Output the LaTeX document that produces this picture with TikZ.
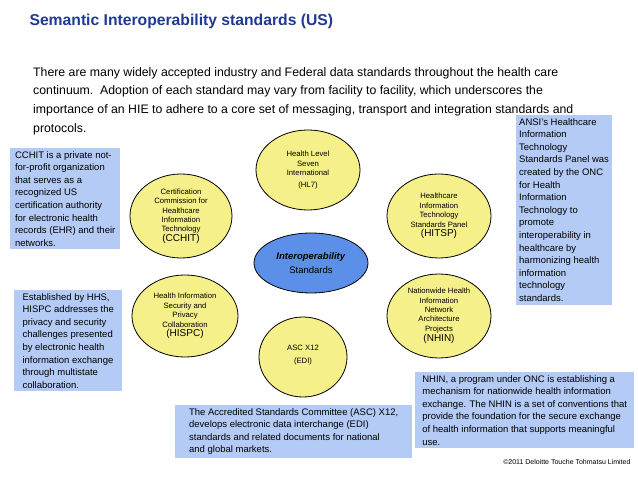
\documentclass[tikz,border=0pt]{standalone}
\usepackage{fontspec}
\setmainfont{Liberation Sans}
\definecolor{boxblue}{HTML}{B4CBF5}
\definecolor{ellfill}{HTML}{F5F08A}
\definecolor{midblue}{HTML}{5B8FE8}
\definecolor{titleblue}{HTML}{1F3A93}
\begin{document}
\begin{tikzpicture}[x=1pt,y=-1pt,
  ell/.style={draw=black,line width=0.8pt,fill=ellfill},
  etxt/.style={align=center,font=\fontsize{7.7}{9.4}\selectfont},
  note/.style={fill=boxblue,anchor=north west,align=left,inner sep=3pt,font=\fontsize{9.5}{12.6}\selectfont}]
\useasboundingbox (0,0) rectangle (638,478);
\fill[white] (0,0) rectangle (638,478);
\node[anchor=west,text=titleblue,font=\fontsize{15.7}{18}\bfseries] (title) at (26,21) {Semantic Interoperability standards (US)};
\node[anchor=north west,align=left,inner sep=0pt,font=\fontsize{12.3}{18.7}\selectfont] (para) at (33,67) {There are many widely accepted industry and Federal data standards throughout the health care\\ continuum.\ \ Adoption of each standard may vary from facility to facility, which underscores the\\ importance of an HIE to adhere to a core set of messaging, transport and integration standards and\\ protocols.};
\draw[ell] (308,170) ellipse [x radius=52,y radius=40];
\node[etxt] (hl7) at (308,170) {Health Level\\Seven\\International\\[2pt](HL7)};
\draw[ell] (181,216) ellipse [x radius=51,y radius=42];
\node[etxt] (cchit) at (181,216) {Certification\\Commission for\\Healthcare\\Information\\Technology\\{\fontsize{10}{11}\selectfont(CCHIT)}};
\draw[ell] (439,216) ellipse [x radius=52,y radius=42];
\node[etxt] (hitsp) at (439,216) {Healthcare\\Information\\Technology\\Standards Panel\\{\fontsize{10}{11}\selectfont(HITSP)}};
\draw[ell,fill=midblue] (311,263) ellipse [x radius=57,y radius=30];
\node[align=center,font=\fontsize{9.5}{14}\selectfont] (inter) at (311,263) {\textbf{\textit{Interoperability}}\\Standards};
\draw[ell] (185,316) ellipse [x radius=53,y radius=41];
\node[etxt] (hispc) at (185,316) {Health Information\\Security and\\Privacy\\Collaboration\\{\fontsize{10}{11}\selectfont(HISPC)}};
\draw[ell] (439,316) ellipse [x radius=52,y radius=42];
\node[etxt] (nhin) at (439,316) {Nationwide Health\\Information\\Network\\Architecture\\Projects\\[1pt]{\fontsize{10}{11}\selectfont(NHIN)}};
\draw[ell] (303,357) ellipse [x radius=44,y radius=40];
\node[etxt] (asc) at (303,355) {ASC X12\\[3pt](EDI)};
\node[note,minimum width=110,minimum height=94] (n1) at (10,148) {CCHIT is a private not-\\for-profit organization\\that serves as a\\recognized US\\certification authority\\for electronic health\\records (EHR) and their\\networks.};
\node[note,minimum width=86,minimum height=175] (n2) at (516,115) {ANSI's Healthcare\\Information\\Technology\\Standards Panel was\\created by the ONC\\for Health\\Information\\Technology to\\promote\\interoperability in\\healthcare by\\harmonizing health\\information\\technology\\standards.};
\node[note,minimum width=108,minimum height=98] (n3) at (14,290) {Established by HHS,\\HISPC addresses the\\privacy and security\\challenges presented\\by electronic health\\information exchange\\through multistate\\collaboration.};
\node[note,minimum width=237,minimum height=51] (n4) at (175,405) {The Accredited Standards Committee (ASC) X12,\\develops electronic data interchange (EDI)\\standards and related documents for national\\and global markets.};
\node[note,minimum width=219,minimum height=70] (n5) at (415,372) {NHIN, a program under ONC is establishing a\\mechanism for nationwide health information\\exchange. The NHIN is a set of conventions that\\provide the foundation for the secure exchange\\of health information that supports meaningful\\use.};
\node[anchor=east,font=\fontsize{7}{8}\selectfont] (copy) at (634,462) {©2011 Deloitte Touche Tohmatsu Limited};
\end{tikzpicture}
\end{document}
